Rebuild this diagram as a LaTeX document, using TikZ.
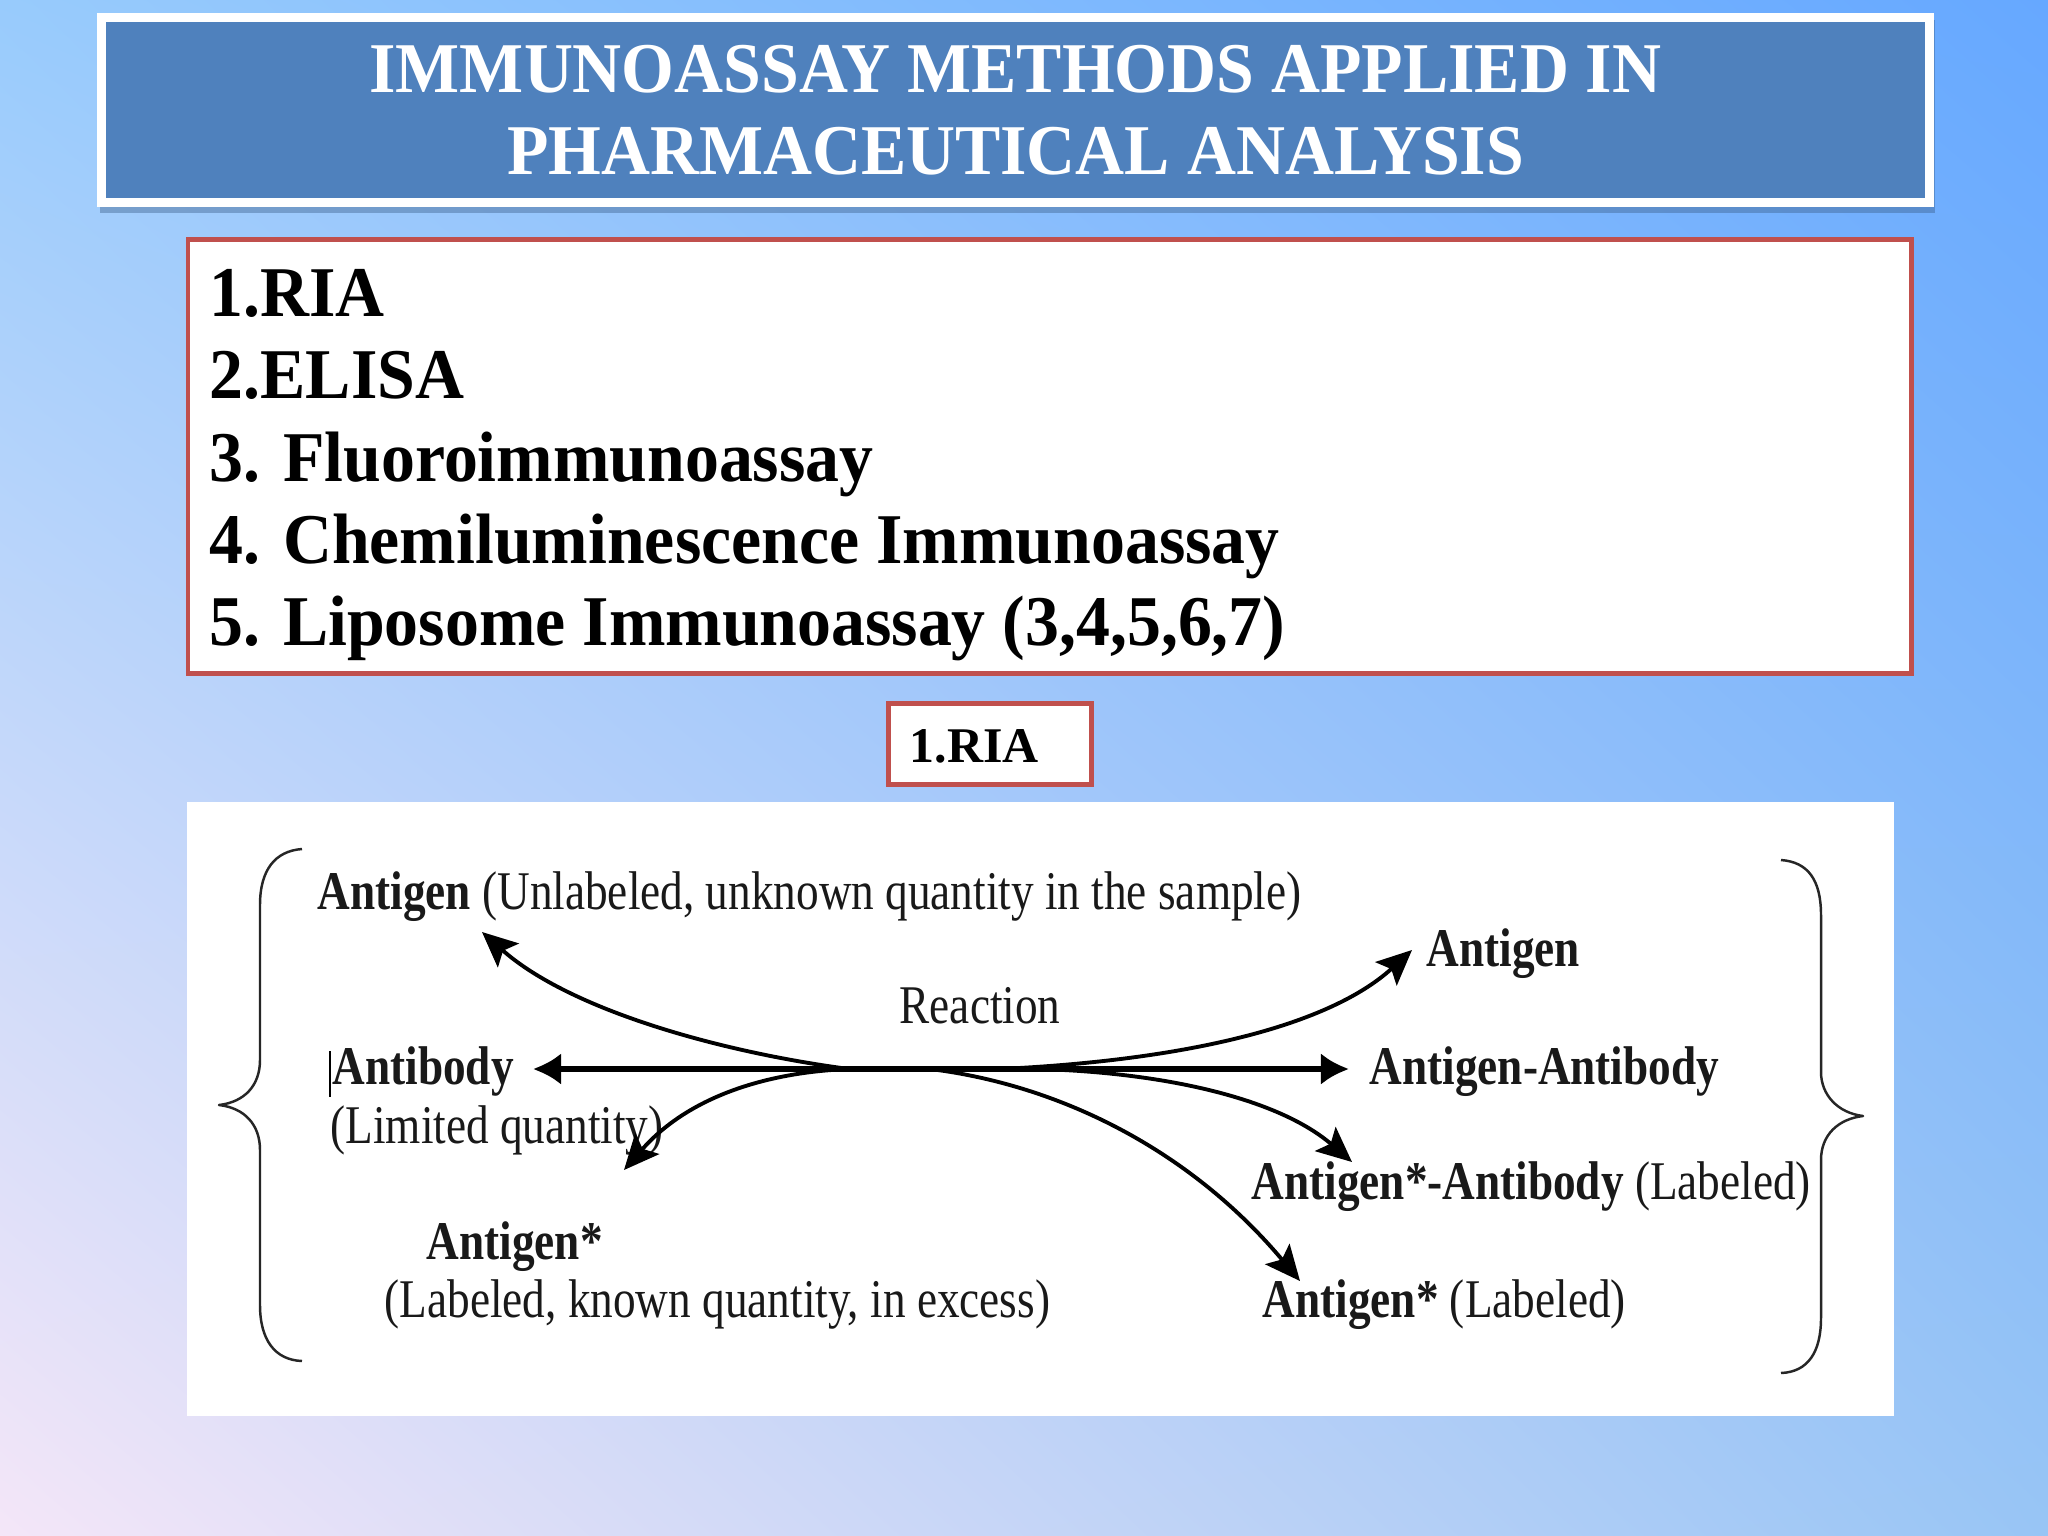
\documentclass[tikz,border=0pt]{standalone}
\usepackage{fontspec}
\setmainfont{Liberation Serif}
\newfontfamily\bigfont[FakeStretch=0.95]{Liberation Serif}
\newfontfamily\dgmfont[FakeStretch=0.83]{Liberation Serif}
\usetikzlibrary{arrows.meta, shadings}
\definecolor{titleblue}{HTML}{4F81BD}
\definecolor{boxred}{HTML}{C0504D}
\definecolor{bgupleft}{HTML}{98CBFC}
\definecolor{bgupright}{HTML}{66A8FF}
\definecolor{bglowleft}{HTML}{F4E6F8}
\definecolor{bglowright}{HTML}{98C5F5}

\begin{document}
\begin{tikzpicture}[x=0.01cm, y=-0.01cm,
    bigtext/.style={font=\bigfont\fontsize{20.3}{23.4}\selectfont\bfseries, inner sep=0pt, anchor=base west},
    redbox/.style={draw=boxred, line width=1.4pt, fill=white, inner sep=0pt, outer sep=0pt},
    dgm/.style={font=\dgmfont\fontsize{15.5}{18}\selectfont, inner sep=0pt, anchor=base west, text=black!90},
    react/.style={line width=1.1pt, -{Stealth[length=10pt, width=9pt, inset=2pt]}},
    brace/.style={line width=0.7pt, line join=round, black!85}]
    \useasboundingbox (0,0) rectangle (2048,1536);

    % Draw background
    \shade[upper left=bgupleft, upper right=bgupright, lower left=bglowleft, lower right=bglowright]
      (0,0) rectangle (2048,1536);

    % Draw title
    \fill[black!30!titleblue, opacity=0.4] (100,20) rectangle (1935,213);
    \node[draw=white, line width=2.4pt, fill=titleblue, outer sep=0pt, minimum width=18.27cm,
      minimum height=1.85cm, inner sep=0pt, align=center, text=white,
      font=\bigfont\fontsize{20.3}{23.4}\selectfont\bfseries] (title) at (1015.5,110)
      {\raisebox{-0.4pt}{IMMUNOASSAY METHODS APPLIED IN}\\\raisebox{-0.4pt}{PHARMACEUTICAL ANALYSIS}};

    % Draw list box
    \node[redbox, minimum width=17.225cm, minimum height=4.34cm] (listbox) at (1049.75,456.5) {};
    \foreach \n/\y/\t in {1/316/{1.RIA}, 2/398/{2.ELISA}, 3/481/{3. Fluoroimmunoassay},
        4/563/{4. Chemiluminescence Immunoassay}, 5/645/{5. Liposome Immunoassay (3,4,5,6,7)}}
      \node[bigtext] (item\n) at (209,\y) {\t};

    % Draw small box
    \node[redbox, minimum width=2.03cm, minimum height=0.81cm] (riabox) at (990,744) {};
    \node[bigtext, font=\fontsize{14.2}{16}\selectfont\bfseries] (rialabel) at (909,762) {1.RIA};

    % Draw white panel
    \fill[white] (187,802) rectangle (1894,1416);

    % Draw labels
    \node[dgm] (unlabeled) at (317,909) {\textbf{Antigen} (Unlabeled, unknown quantity in the sample)};
    \node[dgm] (reaction) at (899,1023) {Reaction};
    \node[dgm] (antigen) at (1426,966) {\textbf{Antigen}};
    \node[dgm] (antibody) at (332,1084) {\textbf{Antibody}};
    \node[dgm] (limited) at (330,1143) {(Limited quantity)};
    \node[dgm] (tracer) at (426,1259) {\textbf{Antigen*}};
    \node[dgm] (excess) at (384,1317) {(Labeled, known quantity, in excess)};
    \node[dgm] (complex) at (1369,1084) {\textbf{Antigen-Antibody}};
    \node[dgm] (labcomplex) at (1251,1199) {\textbf{Antigen*-Antibody} (Labeled)};
    \node[dgm] (labfree) at (1262,1317) {\textbf{Antigen*} (Labeled)};
    \draw[line width=0.4pt] (330,1051) -- (330,1097);

    % Draw arrows
    \coordinate (hubleft) at (849,1069);
    \coordinate (hubmid) at (930,1069);
    \coordinate (hubup) at (1000,1069);
    \coordinate (hublow) at (1040,1069);
    \coordinate (tipunlabeled) at (482,932);
    \coordinate (tiptracer) at (624,1170);
    \coordinate (tipantigen) at (1412,950);
    \coordinate (tiplabcomplex) at (1352,1162);
    \coordinate (tiplabfree) at (1300,1281);
    \coordinate (tipantibody) at (533,1069);
    \coordinate (tipcomplex) at (1349,1069);
    \draw[react] (hubleft) .. controls (720,1052) and (570,1010) .. (tipunlabeled);
    \draw[react] (hubleft) .. controls (770,1072) and (690,1095) .. (tiptracer);
    \draw[react] (hubup) .. controls (1190,1060) and (1330,1025) .. (tipantigen);
    \draw[react] (hublow) .. controls (1170,1073) and (1280,1100) .. (tiplabcomplex);
    \draw[react] (hubmid) .. controls (1060,1085) and (1190,1150) .. (tiplabfree);
    \draw[line width=1.5pt, {Latex[length=8pt, width=9pt]}-{Latex[length=8pt, width=9pt]}] (tipantibody) -- (tipcomplex);

    % Draw braces
    \draw[brace] (302,849) .. controls (275,851) and (260,870) .. (260,905) -- (260,1060)
      .. controls (260,1085) and (245,1102) .. (219,1105)
      .. controls (245,1108) and (260,1125) .. (260,1150) -- (260,1305)
      .. controls (260,1340) and (275,1360) .. (302,1361);
    \draw[brace] (1781,860) .. controls (1808,862) and (1821,880) .. (1821,915) -- (1821,1072)
      .. controls (1821,1095) and (1838,1113) .. (1863,1116)
      .. controls (1838,1119) and (1821,1135) .. (1821,1160) -- (1821,1318)
      .. controls (1821,1352) and (1808,1372) .. (1781,1373);
\end{tikzpicture}
\end{document}
